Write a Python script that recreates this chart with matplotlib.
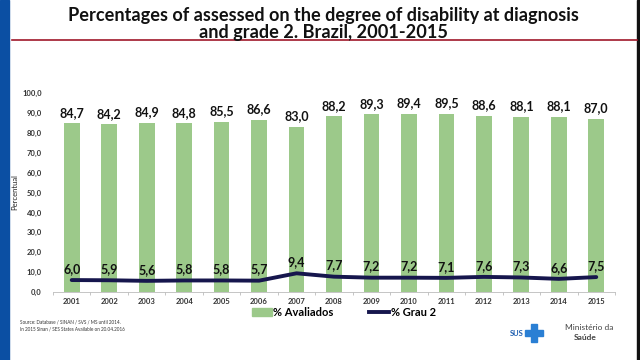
import matplotlib
matplotlib.use("Agg")
import matplotlib.pyplot as plt
from matplotlib.patches import Rectangle
from matplotlib.lines import Line2D

years = ["2001","2002","2003","2004","2005","2006","2007","2008","2009","2010","2011","2012","2013","2014","2015"]
avaliados = [84.7,84.2,84.9,84.8,85.5,86.6,83.0,88.2,89.3,89.4,89.5,88.6,88.1,88.1,87.0]
grau2 = [6.0,5.9,5.6,5.8,5.8,5.7,9.4,7.7,7.2,7.2,7.1,7.6,7.3,6.6,7.5]
yticks = [0,10,20,30,40,50,60,70,80,90,100]

def br(v):
    return f"{v:.1f}".replace(".", ",")

plt.rcParams['font.family'] = ['Lato', 'DejaVu Sans']
fig = plt.figure(figsize=(6.4, 3.6), dpi=100)
fig.patch.set_facecolor("white")

# slide decorations
fig.add_artist(Rectangle((0, 0), 9/640, 1, transform=fig.transFigure, color="#0b4fa3", zorder=0))
fig.add_artist(Rectangle((637/640, 0), 3/640, 1, transform=fig.transFigure, color="#111111", zorder=0))
fig.add_artist(Line2D([12/640, 637/640], [1-40/360, 1-40/360], transform=fig.transFigure, color="#a0182a", lw=1.2))

fig.text(0.505, 1-15/360, "Percentages of assessed on the degree of disability at diagnosis",
         ha="center", va="center", fontsize=13.1, fontweight="bold", color="#111111")
fig.text(0.505, 1-32.5/360, "and grade 2. Brazil, 2001-2015",
         ha="center", va="center", fontsize=13.1, fontweight="bold", color="#111111")

ax = fig.add_axes([53/640, 1-292/360, (615-53)/640, (292-93)/360])
x = list(range(len(years)))
ax.bar(x, avaliados, width=0.42, color="#9cc98a", zorder=2, label="% Avaliados")
ax.plot(x, grau2, color="#16164d", lw=2.8, zorder=3, label="% Grau 2", solid_capstyle="round")

for xi, v in zip(x, avaliados):
    ax.text(xi, v + 2.3, br(v), ha="center", va="bottom", fontsize=9, fontweight="bold", color="#111111")
for xi, v in zip(x, grau2):
    ax.text(xi, v + 2.6, br(v), ha="center", va="bottom", fontsize=9, fontweight="bold", color="#111111")

ax.set_xlim(-0.5, len(years) - 0.5)
ax.set_ylim(0, 100)
ax.set_yticks(yticks)
ax.set_yticklabels([br(t) for t in yticks], fontsize=5.5, fontweight="bold", color="#333333")
ax.set_xticks(x)
ax.set_xticklabels(years, fontsize=5.5, fontweight="bold", color="#333333")
ax.tick_params(axis="y", length=0, pad=8)
ax.tick_params(axis="x", length=0, pad=4)
ax.set_xticks([i + 0.5 for i in range(-1, len(years))], minor=True)
ax.tick_params(axis="x", which="minor", length=2, color="#bbbbbb")
for s in ["top", "right", "left"]:
    ax.spines[s].set_visible(False)
ax.spines["bottom"].set_color("#bbbbbb")
ax.spines["bottom"].set_linewidth(0.6)
ax.set_ylabel("Percentual", fontsize=5.5, color="#222222", labelpad=3)

handles = [Rectangle((0, 0), 1, 1, color="#9cc98a"),
           Line2D([0], [0], color="#16164d", lw=2.8)]
fig.legend(handles, ["% Avaliados", "% Grau 2"], loc="center", bbox_to_anchor=(344/640, 1-312/360),
           ncol=2, frameon=False, prop={"weight": "bold", "size": 8},
           handlelength=1.8, handletextpad=0.1, columnspacing=3.2, borderpad=0.1)

fig.text(20/640, 1-322/360, "Source: Database / SINAN / SVS / MS until 2014.", fontsize=3.3, color="#333333", va="center")
fig.text(20/640, 1-329/360, "In 2015 Sinan / SES States Available on 20.04.2016", fontsize=3.3, color="#333333", va="center")

# logos
fig.text(510/640, 1-333/360, "SUS", fontsize=5.5, fontweight="bold", color="#1f5fb0", va="center")
cx, cy = 534/640, 1-333/360
fig.add_artist(Rectangle((cx - 9/640, cy - 3/360), 18/640, 6/360, transform=fig.transFigure, color="#2a7fd4"))
fig.add_artist(Rectangle((cx - 3/640, cy - 9/360), 6/640, 18/360, transform=fig.transFigure, color="#2a7fd4"))
fig.text(565/640, 1-327/360, "Ministério da", fontsize=6, color="#444444", va="center")
fig.text(574/640, 1-337/360, "Saúde", fontsize=6, fontweight="bold", color="#444444", va="center")

fig.savefig("out.png", dpi=100, facecolor="white")
